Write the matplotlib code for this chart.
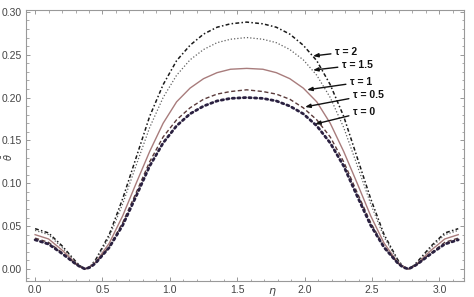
import matplotlib
matplotlib.use("Agg")
import matplotlib.pyplot as plt
from matplotlib.ticker import MultipleLocator

plt.rcParams['font.family'] = ['Liberation Sans', 'DejaVu Sans']

eta = [0, 0.1, 0.2, 0.3, 0.33, 0.37, 0.41, 0.45, 0.55, 0.65, 0.75, 0.85, 0.95, 1.05, 1.15, 1.25, 1.35, 1.45, 1.57,
       1.69, 1.79, 1.89, 1.99, 2.09, 2.19, 2.29, 2.39, 2.49, 2.59, 2.69, 2.73, 2.77, 2.81, 2.84, 2.94, 3.04, 3.14]

theta_tau0 = [0.034, 0.029, 0.018, 0.006, 0.003, 0.000, 0.002, 0.007, 0.025, 0.051, 0.085, 0.120, 0.147, 0.167, 0.181, 0.190, 0.196, 0.199, 0.200,
              0.199, 0.196, 0.190, 0.181, 0.167, 0.147, 0.120, 0.085, 0.051, 0.025, 0.007, 0.002, 0.000, 0.003, 0.006, 0.018, 0.029, 0.034]
theta_tau05 = [0.036, 0.031, 0.019, 0.006, 0.003, 0.000, 0.002, 0.007, 0.026, 0.054, 0.089, 0.125, 0.154, 0.174, 0.188, 0.198, 0.204, 0.207, 0.209,
               0.207, 0.204, 0.198, 0.188, 0.174, 0.154, 0.125, 0.089, 0.054, 0.026, 0.007, 0.002, 0.000, 0.003, 0.006, 0.019, 0.031, 0.036]
theta_tau1 = [0.040, 0.035, 0.022, 0.007, 0.003, 0.000, 0.003, 0.008, 0.030, 0.062, 0.100, 0.137, 0.170, 0.195, 0.211, 0.222, 0.229, 0.233, 0.234,
              0.233, 0.229, 0.222, 0.211, 0.195, 0.170, 0.137, 0.100, 0.062, 0.030, 0.008, 0.003, 0.000, 0.003, 0.007, 0.022, 0.035, 0.040]
theta_tau15 = [0.045, 0.040, 0.025, 0.008, 0.004, 0.000, 0.003, 0.010, 0.037, 0.076, 0.121, 0.165, 0.200, 0.226, 0.244, 0.256, 0.264, 0.268, 0.270,
               0.268, 0.264, 0.256, 0.244, 0.226, 0.200, 0.165, 0.121, 0.076, 0.037, 0.010, 0.003, 0.000, 0.004, 0.008, 0.025, 0.040, 0.045]
theta_tau2 = [0.047, 0.042, 0.027, 0.009, 0.004, 0.000, 0.003, 0.011, 0.040, 0.082, 0.130, 0.178, 0.215, 0.243, 0.261, 0.274, 0.282, 0.286, 0.288,
              0.286, 0.282, 0.274, 0.261, 0.243, 0.215, 0.178, 0.130, 0.082, 0.040, 0.011, 0.003, 0.000, 0.004, 0.009, 0.027, 0.042, 0.047]

labels = ['τ = 2', 'τ = 1.5', 'τ = 1', 'τ = 0.5', 'τ = 0']
label_xy = [(2.226, 0.253), (2.277, 0.238), (2.337, 0.218), (2.359, 0.203), (2.359, 0.183)]
tip_xy = [(2.062, 0.2485), (2.062, 0.232), (2.018, 0.209), (2.003, 0.189), (2.077, 0.169)]

fig = plt.figure(figsize=(4.74, 2.97), dpi=100)
ax = fig.add_axes([0.055, 0.054, 0.924, 0.912])

ax.plot(eta, theta_tau2, color='#1a1a1a', lw=1.1, linestyle=(0, (2.5, 1.5, 1, 1.5)))
ax.plot(eta, theta_tau15, color='#606060', lw=0.9, linestyle=(0, (1, 1.6)))
ax.plot(eta, theta_tau1, color='#a87c7c', lw=1.0, linestyle='-')
ax.plot(eta, theta_tau05, color='#5a3a3a', lw=1.0, linestyle=(0, (3, 1.8)))
ax.plot(eta, theta_tau0, color='#2a2040', lw=2.0, linestyle=(0, (0.8, 1.2)),
        dash_capstyle='round')

for lab, lxy, txy in zip(labels, label_xy, tip_xy):
    ax.annotate(lab, xy=txy, xytext=lxy, ha='left', va='center', fontsize=7.5,
                fontweight='bold', color='#111111',
                arrowprops=dict(arrowstyle='-|>,head_length=0.4,head_width=0.15',
                                color='#111111', lw=1.0, shrinkA=1, shrinkB=0))

ax.set_xlim(-0.067, 3.183)
ax.set_ylim(-0.014, 0.302)
ax.xaxis.set_major_locator(MultipleLocator(0.5))
ax.xaxis.set_minor_locator(MultipleLocator(0.1))
ax.yaxis.set_major_locator(MultipleLocator(0.05))
ax.yaxis.set_minor_locator(MultipleLocator(0.01))
ax.xaxis.set_major_formatter(matplotlib.ticker.FormatStrFormatter('%.1f'))
ax.yaxis.set_major_formatter(matplotlib.ticker.FormatStrFormatter('%.2f'))
ax.tick_params(which='both', direction='in', top=True, right=True, color='#888888',
               labelsize=7.5, labelcolor='#444444', pad=3)
ax.tick_params(which='major', length=3, width=0.6)
ax.tick_params(which='minor', length=1.8, width=0.5)
for s in ax.spines.values():
    s.set_color('#999999')
    s.set_linewidth(0.8)

ax.text(1.76, -0.02, 'η', transform=ax.transData, ha='center', va='top',
        fontsize=8, fontstyle='italic', color='#444444', family='DejaVu Sans')
fig.text(8 / 474, 1 - 157 / 297, r'$\bar{\theta}$', rotation=90, ha='center', va='center',
         fontsize=7, color='#444444')

fig.savefig('out.png', dpi=100)
